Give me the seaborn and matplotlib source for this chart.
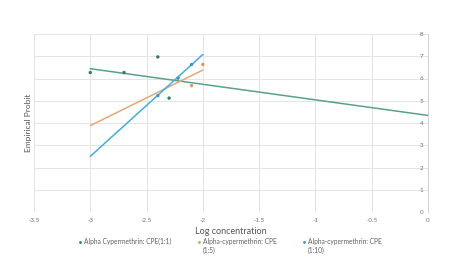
import matplotlib
matplotlib.use("Agg")
import matplotlib.pyplot as plt
import seaborn as sns
import numpy as np
import pandas as pd
from matplotlib.lines import Line2D

sns.set_style("white")
plt.rcParams['font.family'] = ['Lato', 'DejaVu Sans']

# Data points
s1_x = [-3.0, -2.7, -2.4, -2.3]
s1_y = [6.27, 6.27, 6.97, 5.12]
s2_x = [-2.1, -2.0]
s2_y = [5.68, 6.63]
s3_x = [-2.4, -2.22, -2.1]
s3_y = [5.23, 6.02, 6.63]

# Trendlines (endpoints)
t1_x = [-3.0, 0.0]
t1_y = [6.44, 4.34]
t2_x = [-3.0, -2.0]
t2_y = [3.88, 6.38]
t3_x = [-3.0, -2.0]
t3_y = [2.50, 7.08]

labels = ["Alpha Cypermethrin: CPE(1:1)",
          "Alpha-cypermethrin: CPE\n(1:5)",
          "Alpha-cypermethrin: CPE\n(1:10)"]
x_ticks = [-3.5, -3, -2.5, -2, -1.5, -1, -0.5, 0]
x_tick_labels = ["-3.5", "-3", "-2.5", "-2", "-1.5", "-1", "-0.5", "0"]
y_ticks = [0, 1, 2, 3, 4, 5, 6, 7, 8]

line_colors = ["#5aa08a", "#e2a878", "#45acd8"]
point_colors = ["#2f7f63", "#d99660", "#3a98c4"]

W, H = 474, 266
fig = plt.figure(figsize=(W/100, H/100), dpi=100)
ax = fig.add_axes([34/W, 1 - 212/H, (428-34)/W, (212-34)/H])

trends = [(t1_x, t1_y), (t2_x, t2_y), (t3_x, t3_y)]
pts = [(s1_x, s1_y), (s2_x, s2_y), (s3_x, s3_y)]
for i, ((tx, ty), (px, py)) in enumerate(zip(trends, pts)):
    sns.lineplot(x=tx, y=ty, ax=ax, color=line_colors[i], linewidth=1.1,
                 estimator=None, sort=False, zorder=3)
    sns.scatterplot(x=px, y=py, ax=ax, color=point_colors[i], s=6,
                    edgecolor="none", zorder=4)

ax.set_xlim(-3.5, 0)
ax.set_ylim(0, 8)
ax.set_xticks(x_ticks)
ax.set_xticklabels(x_tick_labels)
ax.set_yticks(y_ticks)
ax.grid(True, color="#e4e4e4", linewidth=0.7)
ax.set_axisbelow(True)

for side in ["top", "right", "bottom"]:
    ax.spines[side].set_visible(False)
ax.spines["left"].set_position(("data", 0))
ax.spines["left"].set_color("#d0d0d0")
ax.spines["left"].set_linewidth(0.7)

ax.tick_params(axis="x", length=0, labelsize=4.5, labelcolor="#707070", pad=4)
ax.tick_params(axis="y", length=2, width=0.6, color="#c0c0c0", labelsize=4.5,
               labelcolor="#707070", pad=1.5)

ax.set_xlabel("Log concentration", fontsize=6.5, color="#555555", labelpad=3)
fig.text(28/W, 1 - 123/H, "Empirical Probit", rotation=90, fontsize=6,
         color="#555555", ha="center", va="center")

# Legend (Excel style: marker aligned to first text line)
leg_x = [80, 199, 304]
leg_y = 242
for i, lab in enumerate(labels):
    fig.add_artist(Line2D([leg_x[i]/W], [1 - leg_y/H], transform=fig.transFigure,
                          linestyle="none", marker="o", markersize=2,
                          markerfacecolor=point_colors[i], markeredgecolor="none"))
    fig.text((leg_x[i] + 4)/W, 1 - (leg_y - 4)/H, lab, fontsize=4.8,
             color="#606060", ha="left", va="top", linespacing=1.25)

fig.savefig("out.png", dpi=100)
